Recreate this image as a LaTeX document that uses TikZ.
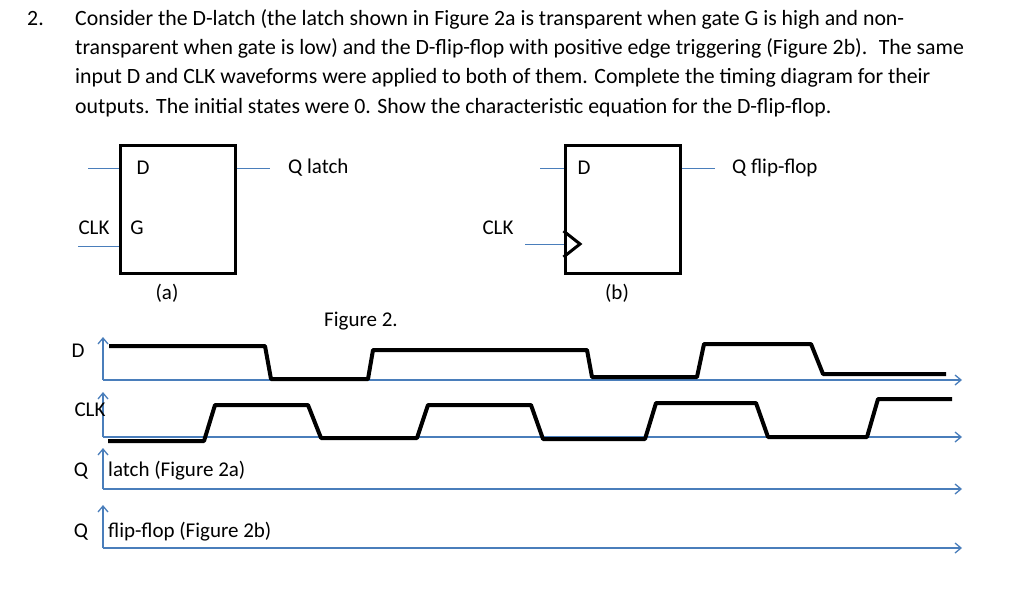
\documentclass[tikz,border=0pt]{standalone}
\usepackage{fontspec}
\setmainfont{Carlito}
\usetikzlibrary{arrows.meta, positioning}
\definecolor{axisblue}{RGB}{74,126,187}
\begin{document}
\begin{tikzpicture}[x=1pt, y=-1pt,
    txt/.style={anchor=base west, inner sep=0pt, font=\fontsize{21.8}{24}\selectfont},
    lbl/.style={inner sep=0pt, font=\fontsize{21}{24}\selectfont},
    blk/.style={draw=black, line width=3pt, minimum width=115pt, minimum height=128pt, inner sep=0pt},
    wire/.style={draw=axisblue, line width=1pt},
    axis/.style={axisblue, line width=1.3pt, -{Straight Barb[length=6pt, width=10pt]}},
    wave/.style={line width=4pt, line join=round}
]
\useasboundingbox (0,0) rectangle (1024,603);
% question text
\node[txt] (num) at (27,25) {2.};
\node[txt] (l1) at (75,25) {Consider the D-latch (the latch shown in Figure 2a is transparent when gate G is high and non-};
\node[txt] (l2) at (75,54) {transparent when gate is low) and the D-flip-flop with positive edge triggering (Figure 2b). \ The same};
\node[txt] (l3) at (75,83) {input D and CLK waveforms were applied to both of them. Complete the timing diagram for their};
\node[txt] (l4) at (75,113) {outputs. The initial states were 0. Show the characteristic equation for the D-flip-flop.};

% latch (a)
\node[blk] (latch) at (177.5,209) {};
\coordinate (latchD) at (88,168);
\coordinate (latchG) at (78,246);
\coordinate (latchQ) at (270,168);
\draw[wire] (latchD) -- (latchD -| latch.west);
\draw[wire] (latchG) -- (latchG -| latch.west);
\draw[wire] (latchQ -| latch.east) -- (latchQ);
\node[lbl] (latchDl) at (143,168) {D};
\node[lbl] (latchGl) at (137,228) {G};
\node[lbl] (latchCLK) at (94,228) {CLK};
\node[lbl, anchor=west] (latchQl) at (288,168) {Q latch};
\node[lbl] (capa) at (167,293) {(a)};
\node[lbl] (fig) at (361,321) {Figure 2.};

% flip-flop (b)
\node[blk] (ff) at (622.5,209) {};
\coordinate (ffD) at (540,168);
\coordinate (ffC) at (525,244);
\coordinate (ffQ) at (715,168);
\draw[wire] (ffD) -- (ffD -| ff.west);
\draw[wire] (ffC) -- (ffC -| ff.west);
\draw[wire] (ffQ -| ff.east) -- (ffQ);
\draw[line width=3pt, line join=miter] (ff.west |- 0,231) -- (580,244) -- (ff.west |- 0,257);
\node[lbl] (ffDl) at (584,168) {D};
\node[lbl] (ffCLK) at (498,228) {CLK};
\node[lbl, anchor=west] (ffQl) at (732,168) {Q flip-flop};
\node[lbl] (capb) at (617,293) {(b)};

% timing axes
\foreach \name/\yb/\yt in {D/380/337, CLK/437/392, QL/489/448, QF/548/505} {
  \coordinate (\name o) at (103,\yb);
  \draw[axis] (\name o) -- ++(0,\yt-\yb);
  \draw[axis] (\name o) -- (962,\yb);
}
\node[lbl] (Dl) at (78,351) {D};
\node[lbl] (CLKl) at (90,410) {CLK};
\node[lbl] (QLq) at (81,471) {Q};
\node[lbl, anchor=west] (QLl) at (108,471) {latch (Figure 2a)};
\node[lbl] (QFq) at (81,532) {Q};
\node[lbl, anchor=west] (QFl) at (108,532) {flip-flop (Figure 2b)};

% waveforms
\draw[wave] (109,346) -- (265,346) -- (271,379) -- (368,379) -- (373,350) -- (587,350)
  -- (592,377) -- (697,377) -- (704,344) -- (811,344) -- (823,374) -- (946,374);
\draw[wave] (108,441) -- (204,441) -- (215,405) -- (308,405) -- (321,438) -- (417,438)
  -- (428,405) -- (531,405) -- (543,439) -- (645,439) -- (656,403) -- (756,403)
  -- (768,437) -- (867,437) -- (878,399) -- (952,399);
\end{tikzpicture}
\end{document}
